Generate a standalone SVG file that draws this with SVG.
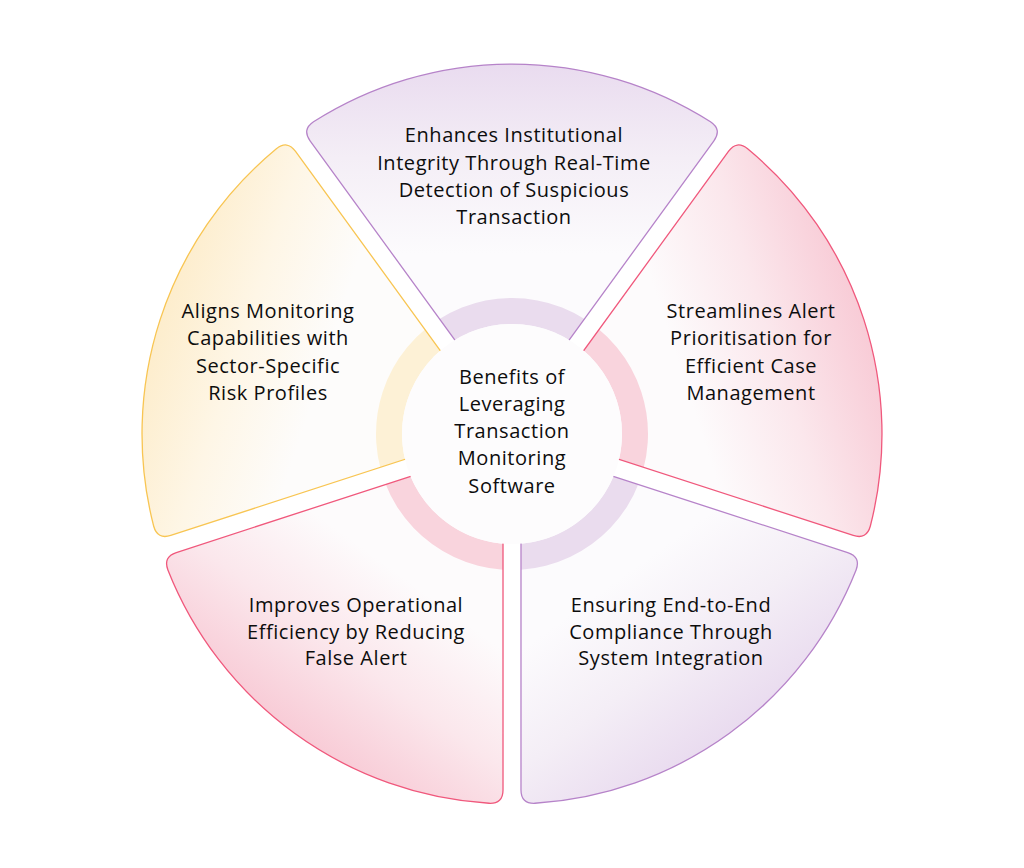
<svg xmlns="http://www.w3.org/2000/svg" xmlns:xlink="http://www.w3.org/1999/xlink" width="1024" height="868" viewBox="0 0 1024 868">
  <style>
    .lbl { font-family: "Open Sans", "Liberation Sans", sans-serif; font-weight: 500; font-size: 20px; letter-spacing: 0.55px; fill: #0d0d0d; text-anchor: middle; }
    .purple .edge { stroke: #b683c9; }
    .pink .edge { stroke: #f0587c; }
    .yellow .edge { stroke: #f8c552; }
    .edge { fill: none; stroke-width: 1.3; }
    .purple .ring { stroke: #eadcee; }
    .pink .ring { stroke: #f9d4dd; }
    .yellow .ring { stroke: #fdf1d6; }
    .ring { fill: none; stroke-width: 26; }
  </style>
  <defs>
    <path id="wedge" d="M 0,-15.31 L 201.91,-293.20 Q 210.14,-304.53 198.47,-312.24 A 370 370 0 0 0 -198.47,-312.24 Q -210.14,-304.53 -201.91,-293.20 Z"/>
    <clipPath id="wclip" clipPathUnits="userSpaceOnUse">
      <use xlink:href="#wedge"/>
    </clipPath>
    <linearGradient id="gPurple" gradientUnits="userSpaceOnUse" x1="0" y1="-372" x2="0" y2="-180">
      <stop offset="0" stop-color="#e9dbef"/>
      <stop offset="0.5" stop-color="#f4eef6"/>
      <stop offset="1" stop-color="#fcfbfd"/>
    </linearGradient>
    <linearGradient id="gPink" gradientUnits="userSpaceOnUse" x1="0" y1="-372" x2="0" y2="-180">
      <stop offset="0" stop-color="#f8cbd6"/>
      <stop offset="0.5" stop-color="#fbe7ec"/>
      <stop offset="1" stop-color="#fdfbfc"/>
    </linearGradient>
    <linearGradient id="gYellow" gradientUnits="userSpaceOnUse" x1="0" y1="-372" x2="0" y2="-200">
      <stop offset="0" stop-color="#fdedcc"/>
      <stop offset="0.5" stop-color="#fef6e6"/>
      <stop offset="1" stop-color="#fdfcfb"/>
    </linearGradient>
  </defs>
  <rect width="1024" height="868" fill="#ffffff"/>

  <g id="node-top" class="purple">
    <g transform="translate(512,434)">
      <use xlink:href="#wedge" fill="url(#gPurple)"/>
      <circle class="ring" r="123" clip-path="url(#wclip)"/>
      <use xlink:href="#wedge" class="edge"/>
    </g>
    <text class="lbl"><tspan x="514" y="142">Enhances Institutional</tspan><tspan x="514" y="169.5">Integrity Through Real-Time</tspan><tspan x="514" y="197">Detection of Suspicious</tspan><tspan x="514" y="224">Transaction</tspan></text>
  </g>

  <g id="node-right" class="pink">
    <g transform="translate(512,434) rotate(72)">
      <use xlink:href="#wedge" fill="url(#gPink)"/>
      <circle class="ring" r="123" clip-path="url(#wclip)"/>
      <use xlink:href="#wedge" class="edge"/>
    </g>
    <text class="lbl"><tspan x="751" y="318">Streamlines Alert</tspan><tspan x="751" y="345">Prioritisation for</tspan><tspan x="751" y="372.5">Efficient Case</tspan><tspan x="751" y="399.5">Management</tspan></text>
  </g>

  <g id="node-bottom-right" class="purple">
    <g transform="translate(512,434) rotate(144)">
      <use xlink:href="#wedge" fill="url(#gPurple)"/>
      <circle class="ring" r="123" clip-path="url(#wclip)"/>
      <use xlink:href="#wedge" class="edge"/>
    </g>
    <text class="lbl"><tspan x="671" y="611.5">Ensuring End-to-End</tspan><tspan x="671" y="638.5">Compliance Through</tspan><tspan x="671" y="665">System Integration</tspan></text>
  </g>

  <g id="node-bottom-left" class="pink">
    <g transform="translate(512,434) rotate(216)">
      <use xlink:href="#wedge" fill="url(#gPink)"/>
      <circle class="ring" r="123" clip-path="url(#wclip)"/>
      <use xlink:href="#wedge" class="edge"/>
    </g>
    <text class="lbl"><tspan x="356" y="611.5">Improves Operational</tspan><tspan x="356" y="638.5">Efficiency by Reducing</tspan><tspan x="356" y="665">False Alert</tspan></text>
  </g>

  <g id="node-left" class="yellow">
    <g transform="translate(512,434) rotate(288)">
      <use xlink:href="#wedge" fill="url(#gYellow)"/>
      <circle class="ring" r="123" clip-path="url(#wclip)"/>
      <use xlink:href="#wedge" class="edge"/>
    </g>
    <text class="lbl"><tspan x="268" y="318">Aligns Monitoring</tspan><tspan x="268" y="345">Capabilities with</tspan><tspan x="268" y="372.5">Sector-Specific</tspan><tspan x="268" y="399.5">Risk Profiles</tspan></text>
  </g>

  <g id="node-center">
    <circle cx="512" cy="434" r="110" fill="#fdfcfd"/>
    <text class="lbl"><tspan x="512" y="383.5">Benefits of</tspan><tspan x="512" y="410.5">Leveraging</tspan><tspan x="512" y="438">Transaction</tspan><tspan x="512" y="465">Monitoring</tspan><tspan x="512" y="492.5">Software</tspan></text>
  </g>
</svg>
